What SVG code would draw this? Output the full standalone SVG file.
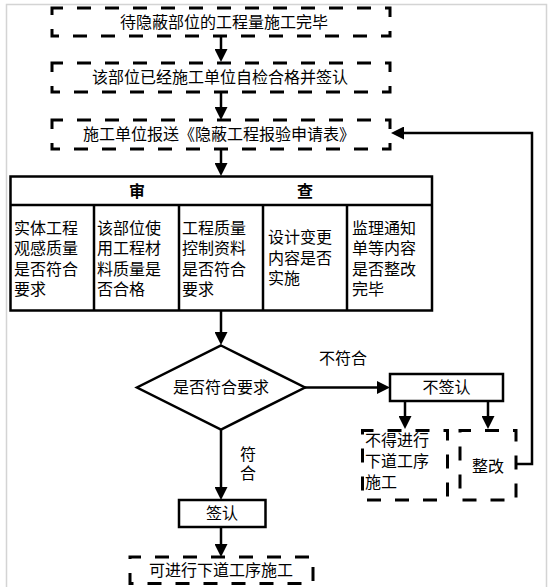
<svg xmlns="http://www.w3.org/2000/svg" width="552" height="587" viewBox="0 0 552 587">
<style>
text{font-family:"Liberation Serif","Noto Sans CJK SC",serif;font-size:16px;fill:#000;dominant-baseline:central}
.c{text-anchor:middle}
.dash{fill:#fff;stroke:#000;stroke-width:3;stroke-dasharray:14 14;stroke-dashoffset:3}
.box{fill:#fff;stroke:#000;stroke-width:2.5}
.ln{fill:none;stroke:#000;stroke-width:2.5}
.frame{fill:none;stroke:#d4d4d4;stroke-width:1.5}
</style>
<defs>
<marker id="ah" markerUnits="userSpaceOnUse" markerWidth="13" markerHeight="13" refX="0" refY="6.5" orient="auto">
<path d="M0,0 L13,6.5 L0,13 z" fill="#000"/>
</marker>
</defs>
<rect width="552" height="587" fill="#fff"/>
<path class="frame" d="M6.5,587 V4.5 H546.5 V587"/>

<g id="connectors">
<line class="ln" x1="221" y1="36" x2="221" y2="49" marker-end="url(#ah)"/>
<line class="ln" x1="221" y1="92" x2="221" y2="107" marker-end="url(#ah)"/>
<line class="ln" x1="221" y1="149" x2="221" y2="163" marker-end="url(#ah)"/>
<line class="ln" x1="221" y1="311" x2="221" y2="332" marker-end="url(#ah)"/>
<line class="ln" x1="305" y1="387.5" x2="377" y2="387.5" marker-end="url(#ah)"/>
<line class="ln" x1="405" y1="401" x2="405" y2="416" marker-end="url(#ah)"/>
<line class="ln" x1="488" y1="401" x2="488" y2="416" marker-end="url(#ah)"/>
<line class="ln" x1="221" y1="429" x2="221" y2="487" marker-end="url(#ah)"/>
<line class="ln" x1="221" y1="527" x2="221" y2="544" marker-end="url(#ah)"/>
<polyline class="ln" points="516,464 532,464 532,133 404,133" marker-end="url(#ah)"/>
<text x="343" y="358" class="c">不符合</text>
<text x="248" y="454" class="c">符</text>
<text x="248" y="473" class="c">合</text>
</g>

<g id="n1">
<rect class="dash" x="52" y="8" width="338" height="28"/>
<text x="224" y="22" class="c">待隐蔽部位的工程量施工完毕</text>
</g>
<g id="n2">
<rect class="dash" x="52" y="63" width="338" height="29"/>
<text x="220" y="77" class="c">该部位已经施工单位自检合格并签认</text>
</g>
<g id="n3">
<rect class="dash" x="52" y="120" width="338" height="29"/>
<text x="219" y="134" class="c">施工单位报送《隐蔽工程报验申请表》</text>
</g>

<g id="table">
<rect class="box" x="10.5" y="176.5" width="421.5" height="134"/>
<line class="ln" x1="10.5" y1="205" x2="432" y2="205"/>
<line class="ln" x1="94" y1="205" x2="94" y2="310.5"/>
<line class="ln" x1="179" y1="205" x2="179" y2="310.5"/>
<line class="ln" x1="263" y1="205" x2="263" y2="310.5"/>
<line class="ln" x1="347" y1="205" x2="347" y2="310.5"/>
<text x="137" y="191" class="c" font-weight="bold">审</text>
<text x="305" y="191" class="c" font-weight="bold">查</text>
<text x="14" y="228">实体工程</text>
<text x="14" y="248.5">观感质量</text>
<text x="14" y="269">是否符合</text>
<text x="14" y="289.5">要求</text>
<text x="97" y="228">该部位使</text>
<text x="97" y="248.5">用工程材</text>
<text x="97" y="269">料质量是</text>
<text x="97" y="289.5">否合格</text>
<text x="182" y="228">工程质量</text>
<text x="182" y="248.5">控制资料</text>
<text x="182" y="269">是否符合</text>
<text x="182" y="289.5">要求</text>
<text x="268" y="237.5">设计变更</text>
<text x="268" y="258">内容是否</text>
<text x="268" y="278.5">实施</text>
<text x="352" y="228">监理通知</text>
<text x="352" y="248.5">单等内容</text>
<text x="352" y="269">是否整改</text>
<text x="352" y="289.5">完毕</text>
</g>

<g id="decision">
<polygon class="box" points="221,345.5 305,387.5 221,429.5 137,387.5"/>
<text x="221" y="387.5" class="c">是否符合要求</text>
</g>

<g id="nosign">
<rect class="box" x="390" y="374" width="113" height="27"/>
<text x="446.5" y="387.5" class="c">不签认</text>
</g>

<g id="nonext">
<rect class="dash" x="362.5" y="430.5" width="85" height="69.5"/>
<text x="365" y="440">不得进行</text>
<text x="365" y="461">下道工序</text>
<text x="365" y="482">施工</text>
</g>

<g id="rectify">
<rect class="dash" x="460" y="430.5" width="56" height="69.5"/>
<text x="488" y="466" class="c">整改</text>
</g>

<g id="sign">
<rect class="box" x="179" y="500" width="86.5" height="27"/>
<text x="222" y="513.5" class="c">签认</text>
</g>

<g id="next">
<rect class="dash" x="130" y="557" width="183" height="26.5"/>
<text x="221" y="570.5" class="c">可进行下道工序施工</text>
</g>
</svg>
